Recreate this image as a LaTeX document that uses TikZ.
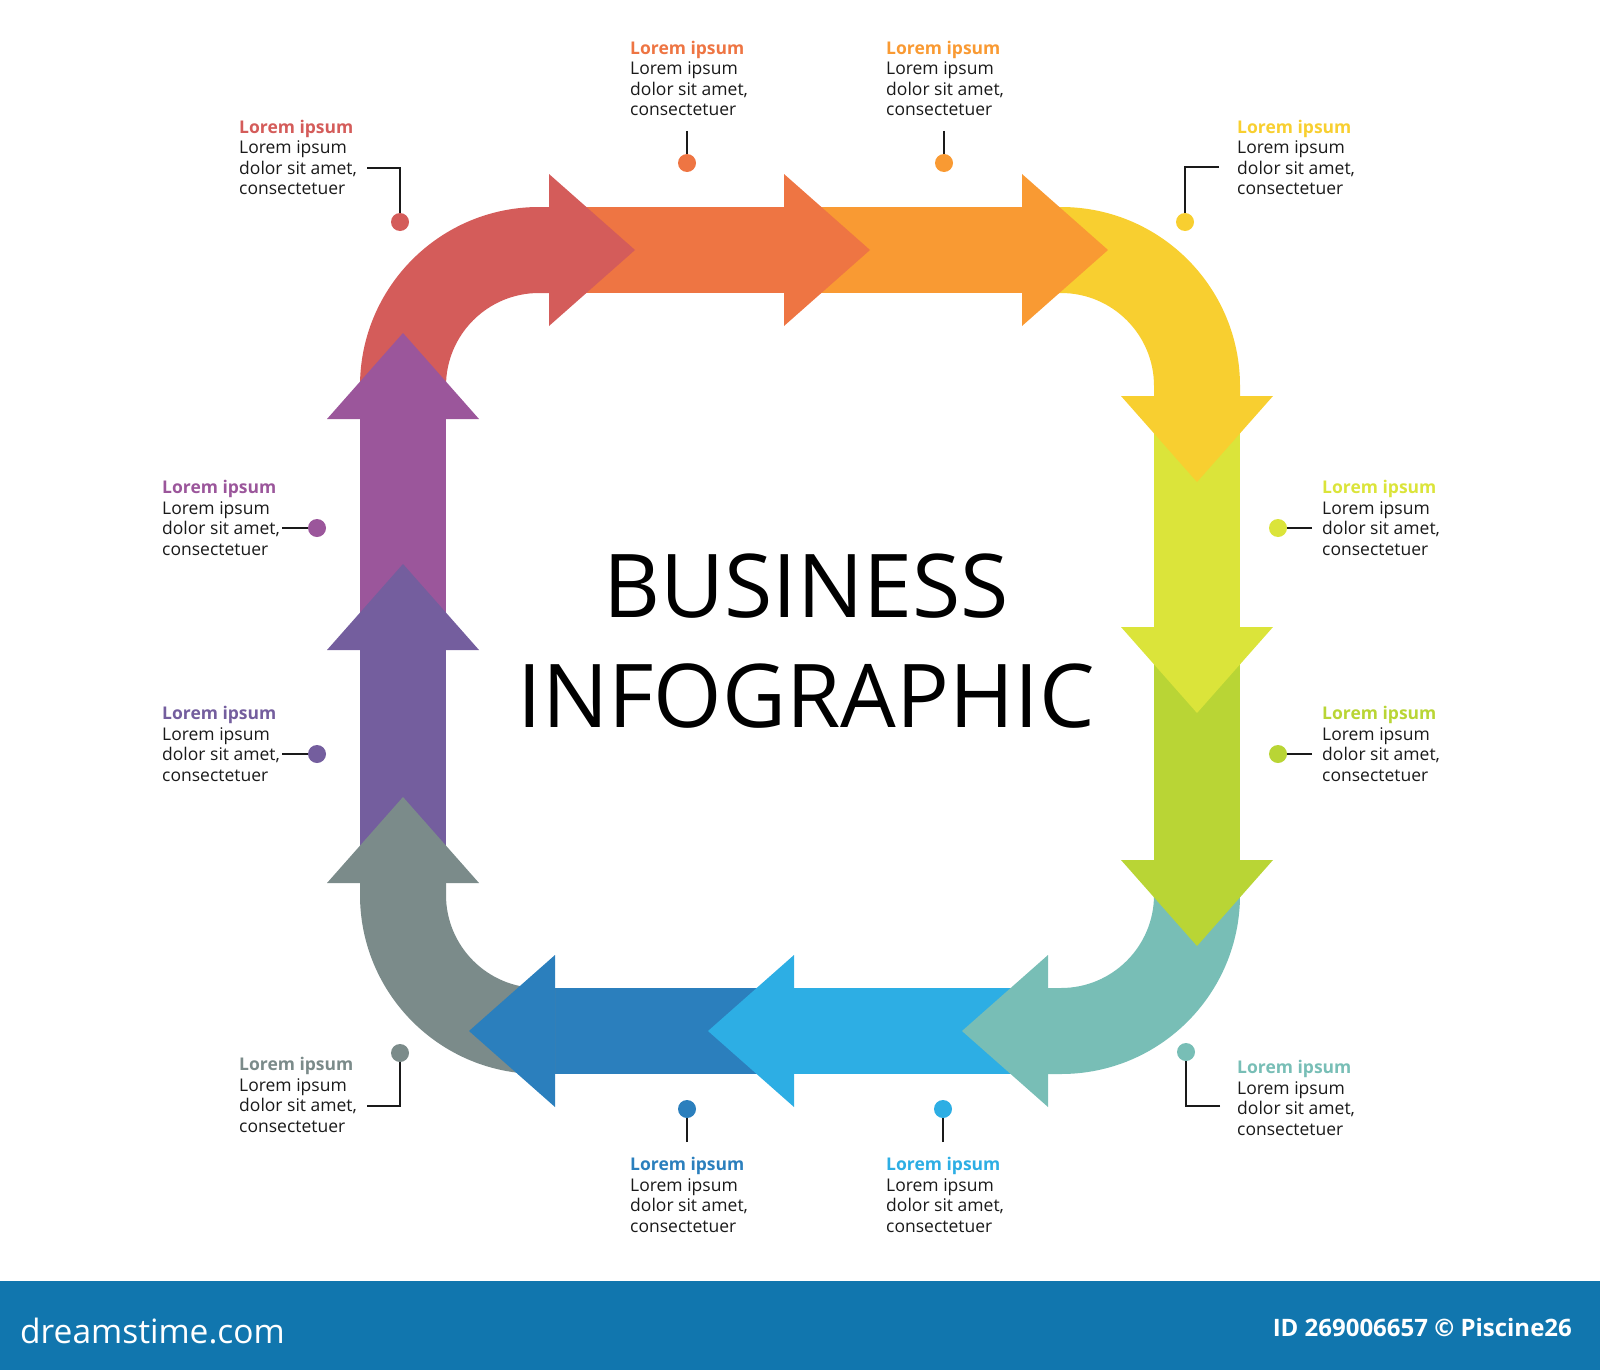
\documentclass[tikz,border=0pt]{standalone}
\usepackage{fontspec}
\setmainfont{Open Sans}
\usepackage{tikz}
\usetikzlibrary{calc}

\definecolor{segRed}{HTML}{D45C5A}
\definecolor{segOrange}{HTML}{EE7543}
\definecolor{segAmber}{HTML}{F99A33}
\definecolor{segYellow}{HTML}{F8CF30}
\definecolor{segLime}{HTML}{DBE43A}
\definecolor{segGreen}{HTML}{B9D535}
\definecolor{segTeal}{HTML}{78BEB6}
\definecolor{segSky}{HTML}{2DAEE4}
\definecolor{segBlue}{HTML}{2B7FBD}
\definecolor{segGray}{HTML}{7B8B8A}
\definecolor{segIndigo}{HTML}{745E9E}
\definecolor{segPurple}{HTML}{9B569B}
\definecolor{bannerBlue}{HTML}{1176AE}
\definecolor{inkBlack}{HTML}{1A1A1A}

\newcommand{\loremtxt}[1]{\textcolor{#1}{\bfseries Lorem ipsum}\\Lorem ipsum\\dolor sit amet,\\consectetuer}

\begin{document}
\begin{tikzpicture}[x=1pt,y=1pt,
    lbl/.style={anchor=north west,inner sep=0pt,align=left,text=inkBlack,
        font=\fontsize{17.5}{20.5}\selectfont},
    dot/.style={circle,fill=#1,minimum size=18pt,inner sep=0pt},
    lead/.style={line width=1.5pt,draw=inkBlack}]
    \useasboundingbox (0,0) rectangle (1600,-1370);

    % ring bodies
    \fill[segRed] (360,-419) -- (360,-386) arc[start angle=180,end angle=90,radius=179pt] -- (549,-207) -- (549,-293) -- (539,-293) arc[start angle=90,end angle=180,radius=93pt] -- (446,-419) -- cycle;
    \fill[segOrange] (549,-207) rectangle (784,-293);
    \fill[segAmber] (784,-207) rectangle (1022,-293);
    \fill[segYellow] (1022,-207) -- (1061,-207) arc[start angle=90,end angle=0,radius=179pt] -- (1240,-396) -- (1154,-396) -- (1154,-386) arc[start angle=0,end angle=90,radius=93pt] -- (1022,-293) -- cycle;
    \fill[segLime] (1154,-396) rectangle (1240,-627);
    \fill[segGreen] (1154,-627) rectangle (1240,-860);
    \fill[segTeal] (1240,-860) -- (1240,-895) arc[start angle=0,end angle=-90,radius=179pt] -- (1048,-1074) -- (1048,-988) -- (1061,-988) arc[start angle=-90,end angle=0,radius=93pt] -- (1154,-860) -- cycle;
    \fill[segSky] (1048,-988) rectangle (794,-1074);
    \fill[segBlue] (794,-988) rectangle (555,-1074);
    \fill[segGray] (555,-1074) -- (539,-1074) arc[start angle=270,end angle=180,radius=179pt] -- (360,-883) -- (446,-883) -- (446,-895) arc[start angle=180,end angle=270,radius=93pt] -- (555,-988) -- cycle;
    \fill[segIndigo] (360,-883) rectangle (446,-650);
    \fill[segPurple] (360,-650) rectangle (446,-419);

    % arrow heads
    \foreach \c/\b in {segRed/549,segOrange/784,segAmber/1022}
        \fill[\c] (\b,-174) -- (\b+86,-250) -- (\b,-326) -- cycle;
    \foreach \c/\b in {segYellow/-396,segLime/-627,segGreen/-860}
        \fill[\c] (1121,\b) -- (1197,\b-86) -- (1273,\b) -- cycle;
    \foreach \c/\b in {segTeal/1048,segSky/794,segBlue/555}
        \fill[\c] (\b,-955) -- (\b-86,-1031) -- (\b,-1107) -- cycle;
    \foreach \c/\b in {segGray/-883,segIndigo/-650,segPurple/-419}
        \fill[\c] (327,\b) -- (403,\b+86) -- (479,\b) -- cycle;

    % title
    \node[align=center,inner sep=0pt,font=\fontsize{88}{110}\selectfont] (title) at (806,-641) {BUSINESS\\INFOGRAPHIC};

    % labels
    \node[lbl] (t1) at (239,-120) {\loremtxt{segRed}};
    \node[lbl] (t2) at (630,-41) {\loremtxt{segOrange}};
    \node[lbl] (t3) at (886,-41) {\loremtxt{segAmber}};
    \node[lbl] (t4) at (1237,-120) {\loremtxt{segYellow}};
    \node[lbl] (t5) at (1322,-480) {\loremtxt{segLime}};
    \node[lbl] (t6) at (1322,-706) {\loremtxt{segGreen}};
    \node[lbl] (t7) at (1237,-1060) {\loremtxt{segTeal}};
    \node[lbl] (t8) at (886,-1157) {\loremtxt{segSky}};
    \node[lbl] (t9) at (630,-1157) {\loremtxt{segBlue}};
    \node[lbl] (t10) at (239,-1057) {\loremtxt{segGray}};
    \node[lbl] (t11) at (162,-706) {\loremtxt{segIndigo}};
    \node[lbl] (t12) at (162,-480) {\loremtxt{segPurple}};

    % dots and leaders
    \node[dot=segRed] (d1) at (400,-222) {};
    \node[dot=segOrange] (d2) at (687,-163) {};
    \node[dot=segAmber] (d3) at (944,-163) {};
    \node[dot=segYellow] (d4) at (1185,-222) {};
    \node[dot=segLime] (d5) at (1278,-528) {};
    \node[dot=segGreen] (d6) at (1278,-754) {};
    \node[dot=segTeal] (d7) at (1186,-1052) {};
    \node[dot=segSky] (d8) at (943,-1109) {};
    \node[dot=segBlue] (d9) at (687,-1109) {};
    \node[dot=segGray] (d10) at (400,-1053) {};
    \node[dot=segIndigo] (d11) at (317,-754) {};
    \node[dot=segPurple] (d12) at (317,-528) {};

    \coordinate (e1) at (367,-168);
    \coordinate (e2) at (687,-131);
    \coordinate (e3) at (944,-131);
    \coordinate (e4) at (1219,-167);
    \coordinate (e5) at (1312,-528);
    \coordinate (e6) at (1312,-754);
    \coordinate (e7) at (1220,-1106);
    \coordinate (e8) at (943,-1142);
    \coordinate (e9) at (687,-1142);
    \coordinate (e10) at (367,-1106);
    \coordinate (e11) at (282,-754);
    \coordinate (e12) at (282,-528);

    \draw[lead] (e1) -| (d1);
    \draw[lead] (e2) -- (d2);
    \draw[lead] (e3) -- (d3);
    \draw[lead] (e4) -| (d4);
    \draw[lead] (e5) -- (d5);
    \draw[lead] (e6) -- (d6);
    \draw[lead] (e7) -| (d7);
    \draw[lead] (e8) -- (d8);
    \draw[lead] (e9) -- (d9);
    \draw[lead] (e10) -| (d10);
    \draw[lead] (e11) -- (d11);
    \draw[lead] (e12) -- (d12);

    % banner
    \fill[bannerBlue] (0,-1281) rectangle (1600,-1370);
    \node[anchor=west,inner sep=0pt,text=white,font=\fontsize{33.5}{40}\selectfont] (logo) at (20,-1331) {dreamstime.com};
    \node[anchor=east,inner sep=0pt,text=white,font=\bfseries\fontsize{24}{30}\selectfont] (credit) at (1572,-1327) {ID 269006657 © Piscine26};
\end{tikzpicture}
\end{document}
